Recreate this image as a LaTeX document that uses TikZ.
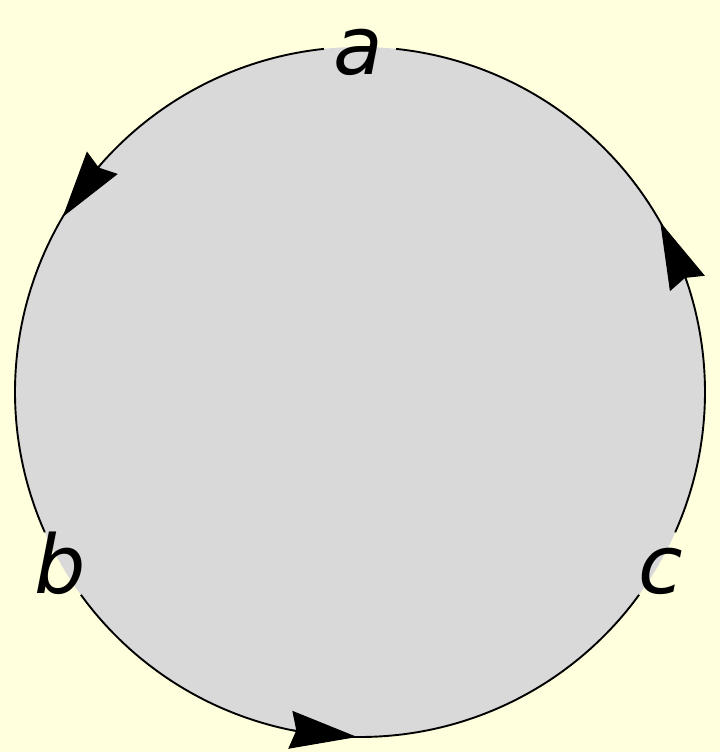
\documentclass[tikz,border=0pt]{standalone}
\usepackage{fontspec}
\setmainfont{DejaVu Sans}
\usetikzlibrary{arrows.meta}
\definecolor{bgyellow}{HTML}{FFFFDD}
\definecolor{discgray}{HTML}{D9D9D9}
\tikzset{
  rim/.style={line width=1.9pt, draw=black},
  lbl/.style={anchor=base, inner sep=0pt, font=\fontsize{81}{81}\selectfont\itshape},
  flow/.style={draw=black, line width=1pt, -{Stealth[length=67pt,width=38pt,inset=6pt]}}
}
\begin{document}
\begin{tikzpicture}[x=1pt,y=1pt]
  \fill[bgyellow] (-360,-360) rectangle (360,392);
  \useasboundingbox (-360,-360) rectangle (360,392);
  \coordinate (O) at (0,0);
  \fill[discgray] (O) circle[radius=345pt];
  % labels
  \node[lbl] (a) at (-2,317) {a};
  \node[lbl] (b) at (-300,-201) {b};
  \node[lbl] (c) at (301,-201) {c};
  % rim arcs between the labels
  \draw[rim] (96:345pt) arc[start angle=96, end angle=204, radius=345pt];
  \draw[rim] (216:345pt) arc[start angle=216, end angle=324, radius=345pt];
  \draw[rim] (336:345pt) arc[start angle=336, end angle=444, radius=345pt];
  % direction arrows
  \coordinate (t1) at (149.5:345pt);
  \coordinate (s1) at (138.2:345pt);
  \coordinate (t2) at (269.5:345pt);
  \coordinate (s2) at (258.2:345pt);
  \coordinate (t3) at (29.5:345pt);
  \coordinate (s3) at (18.2:345pt);
  \draw[flow] (s1) -- (t1);
  \draw[flow] (s2) -- (t2);
  \draw[flow] (s3) -- (t3);
\end{tikzpicture}
\end{document}
